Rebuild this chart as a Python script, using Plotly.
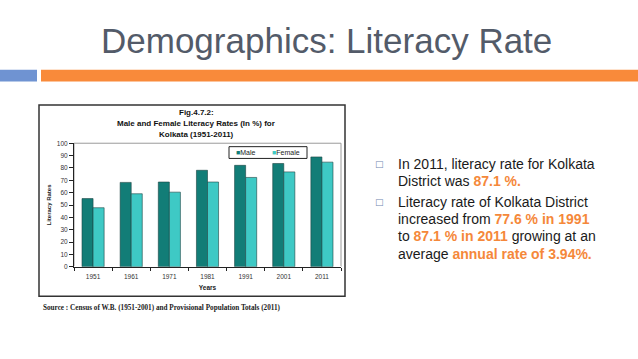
import plotly.graph_objects as go

# ---- data ----
years = ["1951", "1961", "1971", "1981", "1991", "2001", "2011"]
male = [55.2, 68.3, 68.6, 78.1, 82.1, 83.6, 88.9]
female = [47.8, 59.1, 60.4, 68.6, 72.3, 76.8, 84.7]
y_ticks = list(range(0, 101, 10))

slide_title = "Demographics: Literacy Rate"
chart_title = ["Fig.4.7.2:", "Male and Female Literacy Rates (In %) for", "Kolkata (1951-2011)"]
source_note = "Source : Census of W.B. (1951-2001) and Provisional Population Totals (2011)"

ORANGE = "#f5883a"
bullets = [
    ["In 2011, literacy rate for Kolkata",
     f"District was <b><span style='color:{ORANGE}'>87.1 %.</span></b>"],
    ["Literacy rate of Kolkata District",
     f"increased from <b><span style='color:{ORANGE}'>77.6 % in 1991</span></b>",
     f"to <b><span style='color:{ORANGE}'>87.1 % in 2011</span></b> growing at an",
     f"average <b><span style='color:{ORANGE}'>annual rate of 3.94%.</span></b>"],
]

W, H = 638, 359
MALE_C = "#127d77"
FEMALE_C = "#3ec9c5"

def px(x):
    return x / W

def py(y):
    return 1 - y / H

fig = go.Figure()
fig.add_trace(go.Bar(x=years, y=male, name="Male", marker=dict(color=MALE_C, line=dict(color="#1d4543", width=0.6))))
fig.add_trace(go.Bar(x=years, y=female, name="Female", marker=dict(color=FEMALE_C, line=dict(color="#1d4543", width=0.6))))

x0, x1, yt, yb = 74, 341, 142, 268
CF = "Liberation Sans, Arial, sans-serif"

fig.update_layout(
    width=W, height=H, autosize=False,
    margin=dict(l=0, r=0, t=0, b=0),
    paper_bgcolor="white", plot_bgcolor="white",
    showlegend=False,
    barmode="group", bargap=0.42, bargroupgap=0,
    font=dict(family=CF, color="#222"),
    xaxis=dict(domain=[px(x0), px(x1)], type="category", showgrid=False,
               showline=True, linecolor="#222", linewidth=1,
               ticks="outside", ticklen=3, tickcolor="#222", tickson="boundaries",
               ticklabelstandoff=3,
               tickfont=dict(size=6.5, color="#333"),
               title=dict(text="<b>Years</b>", font=dict(size=6.5, color="#222"), standoff=6)),
    yaxis=dict(domain=[py(yb), py(yt)], range=[0, 100], tickvals=y_ticks, showgrid=False,
               showline=True, linecolor="#222", linewidth=1,
               ticks="outside", ticklen=4, tickcolor="#222",
               tickfont=dict(size=6.5, color="#333"),
               title=dict(text="<b>Literacy Rates</b>", font=dict(size=6, color="#222"), standoff=4)),
)

shapes = [
    # slide decorative bars
    dict(type="rect", xref="paper", yref="paper", x0=px(0), x1=px(37), y0=py(79), y1=py(67),
         fillcolor="#6f93d2", line=dict(width=0), layer="below"),
    dict(type="rect", xref="paper", yref="paper", x0=px(41), x1=px(638), y0=py(79), y1=py(67),
         fillcolor="#f98a3a", line=dict(width=0), layer="below"),
    # chart frame
    dict(type="rect", xref="paper", yref="paper", x0=px(39), x1=px(345), y0=py(298), y1=py(103),
         fillcolor="rgba(0,0,0,0)", line=dict(color="#333", width=1.5)),
    # plot area border
    dict(type="rect", xref="paper", yref="paper", x0=px(x0), x1=px(x1), y0=py(yb), y1=py(yt),
         fillcolor="rgba(0,0,0,0)", line=dict(color="#9a9a9a", width=1), layer="below"),
    # legend box
    dict(type="rect", xref="paper", yref="paper", x0=px(229), x1=px(307), y0=py(157.5), y1=py(145.5),
         fillcolor="white", line=dict(color="#222", width=1)),
]
fig.update_layout(shapes=shapes)

ann = []
# slide title
ann.append(dict(text=slide_title, x=px(326), y=py(37.5), xref="paper", yref="paper", showarrow=False,
                xanchor="center", yanchor="middle",
                font=dict(family="Liberation Sans, Arial, sans-serif", size=35, color="#535b69")))
# chart title lines
for t, yy in zip(chart_title, [111, 122, 133]):
    ann.append(dict(text=f"<b>{t}</b>", x=px(196), y=py(yy), xref="paper", yref="paper", showarrow=False,
                    xanchor="center", yanchor="middle", font=dict(family=CF, size=8, color="#111")))
# legend text
ann.append(dict(text=f"<span style='color:{MALE_C}'>■</span>Male", x=px(234), y=py(151.5),
                xref="paper", yref="paper", showarrow=False, xanchor="left", yanchor="middle",
                font=dict(family=CF, size=7, color="#222")))
ann.append(dict(text=f"<span style='color:{FEMALE_C}'>■</span>Female", x=px(270), y=py(151.5),
                xref="paper", yref="paper", showarrow=False, xanchor="left", yanchor="middle",
                font=dict(family=CF, size=7, color="#222")))
# source note
ann.append(dict(text=f"<b>{source_note}</b>", x=px(41), y=py(310), xref="paper", yref="paper", showarrow=False,
                xanchor="left", yanchor="middle",
                font=dict(family="Liberation Serif, Times New Roman, serif", size=7.2, color="#222")))
# bullets
line_y = [[163, 180.5], [202, 219.5, 237, 254.5]]
for blines, ys in zip(bullets, line_y):
    ann.append(dict(text="□", x=px(379), y=py(ys[0]), xref="paper", yref="paper", showarrow=False,
                    xanchor="center", yanchor="middle",
                    font=dict(family="DejaVu Sans, sans-serif", size=9, color="#6f86b0")))
    for t, yy in zip(blines, ys):
        ann.append(dict(text=t, x=px(396), y=py(yy), xref="paper", yref="paper", showarrow=False,
                        xanchor="left", yanchor="middle",
                        font=dict(family="Liberation Sans, Arial, sans-serif", size=14, color="#1a1a1a")))
fig.update_layout(annotations=ann)

fig.write_html("out.html", config={"displayModeBar": False},
               post_script="document.body.style.margin='0';document.body.style.overflow='hidden';")
